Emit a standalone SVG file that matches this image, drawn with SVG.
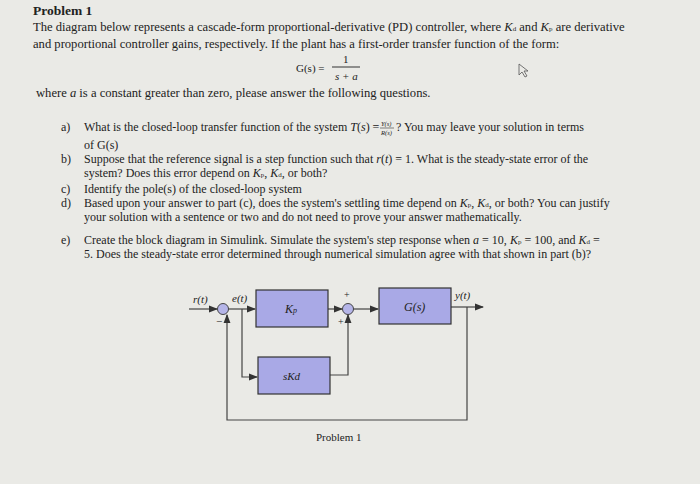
<svg xmlns="http://www.w3.org/2000/svg" width="700" height="484" viewBox="0 0 700 484">
<style>
text{font-family:"Liberation Serif",serif;fill:#222}
.t{font-size:12.6px}
.q{font-size:12px}
.b{fill:#a9a9e6;stroke:#333;stroke-width:1.2}
.l{fill:none;stroke:#444;stroke-width:1.2}
.s{fill:#b5b5e8;stroke:#444;stroke-width:1}
</style>
<defs><marker id="a" markerWidth="8" markerHeight="6" refX="7" refY="3" orient="auto"><path d="M0,0L8,3L0,6z" fill="#333"/></marker></defs>
<rect width="700" height="484" fill="#eaeae6"/>
<text x="33" y="15" font-weight="bold" font-size="13.5">Problem 1</text>
<text class="t" x="33" y="31">The diagram below represents a cascade-form proportional-derivative (PD) controller, where <tspan font-style="italic">K</tspan><tspan font-size="7">d</tspan> and <tspan font-style="italic">K</tspan><tspan font-size="7">p</tspan> are derivative</text>
<text class="t" x="33" y="48">and proportional controller gains, respectively.  If the plant has a first-order transfer function of the form:</text>
<text x="296" y="72" font-family="Liberation Sans,sans-serif" font-size="11">G(s) =</text>
<text x="343" y="63" font-size="11">1</text>
<line x1="332" y1="67" x2="360" y2="67" stroke="#333"/>
<text x="335" y="80" font-size="11" font-style="italic">s + a</text>
<text class="t" x="36" y="97">where <tspan font-style="italic">a</tspan> is a constant greater than zero, please answer the following questions.</text>
<path d="M519,64l0,11l3,-3l3,5l2,-1l-3,-5l4,0z" fill="none" stroke="#555" stroke-width="0.8"/>
<g class="q">
<text x="61" y="131">a)</text><text x="84" y="131">What is the closed-loop transfer function of the system <tspan font-style="italic">T</tspan>(<tspan font-style="italic">s</tspan>) =</text>
<text x="396" y="131">? You may leave your solution in terms</text>
<text x="84" y="149">of G(s)</text>
<text x="61" y="163">b)</text><text x="84" y="163">Suppose that the reference signal is a step function such that <tspan font-style="italic">r</tspan>(<tspan font-style="italic">t</tspan>) = 1. What is the steady-state error of the</text>
<text x="84" y="177">system? Does this error depend on <tspan font-style="italic">K</tspan><tspan font-size="7">p</tspan>, <tspan font-style="italic">K</tspan><tspan font-size="7">d</tspan>, or both?</text>
<text x="61" y="193">c)</text><text x="84" y="193">Identify the pole(s) of the closed-loop system</text>
<text x="61" y="207">d)</text><text x="84" y="207">Based upon your answer to part (c), does the system's settling time depend on <tspan font-style="italic">K</tspan><tspan font-size="7">p</tspan>, <tspan font-style="italic">K</tspan><tspan font-size="7">d</tspan>, or both? You can justify</text>
<text x="84" y="221">your solution with a sentence or two and do not need to prove your answer mathematically.</text>
<text x="61" y="244">e)</text><text x="84" y="244">Create the block diagram in Simulink. Simulate the system's step response when <tspan font-style="italic">a</tspan> = 10, <tspan font-style="italic">K</tspan><tspan font-size="7">p</tspan> = 100, and <tspan font-style="italic">K</tspan><tspan font-size="7">d</tspan> =</text>
<text x="84" y="258">5. Does the steady-state error determined through numerical simulation agree with that shown in part (b)?</text>
</g>
<text x="381" y="126" font-size="6.5" font-style="italic">Y(s)</text>
<line x1="380" y1="128" x2="394" y2="128" stroke="#333" stroke-width="0.6"/>
<text x="381" y="135" font-size="6.5" font-style="italic">R(s)</text>
<g id="connectors" class="l">
<line x1="189" y1="309" x2="217" y2="309" marker-end="url(#a)"/>
<line x1="228" y1="309" x2="255" y2="309" marker-end="url(#a)"/>
<polyline points="242,309 242,377 257,377" marker-end="url(#a)"/>
<line x1="328" y1="309" x2="342" y2="309" marker-end="url(#a)"/>
<polyline points="330,375 348,375 348,315" marker-end="url(#a)"/>
<line x1="353" y1="309" x2="378" y2="309" marker-end="url(#a)"/>
<line x1="451" y1="307" x2="483" y2="307" marker-end="url(#a)"/>
<polyline points="467,307 467,420 227,420 227,315" marker-end="url(#a)"/>
</g>
<g id="sum1"><circle class="s" cx="223" cy="309" r="5.5"/><text x="216" y="325" font-size="11">−</text></g>
<g id="sum2"><circle class="s" cx="348" cy="309" r="5.5"/><text x="344" y="298" font-size="10">+</text><text x="338" y="325" font-size="10">+</text></g>
<g id="kp"><rect class="b" x="256" y="290" width="72" height="37"/><text x="285" y="313" font-size="12" font-style="italic">K<tspan font-size="8">p</tspan></text></g>
<g id="g"><rect class="b" x="379" y="288" width="72" height="36"/><text x="404" y="311" font-size="12" font-style="italic">G(s)</text></g>
<g id="skd"><rect class="b" x="258" y="357" width="72" height="37"/><text x="283" y="380" font-size="11" font-style="italic">sKd</text></g>
<text x="193" y="303" font-size="11" font-style="italic">r(t)</text>
<text x="232" y="302" font-size="11" font-style="italic">e(t)</text>
<text x="455" y="299" font-size="11" font-style="italic">y(t)</text>
<text x="316" y="441" font-size="11">Problem 1</text>
</svg>
